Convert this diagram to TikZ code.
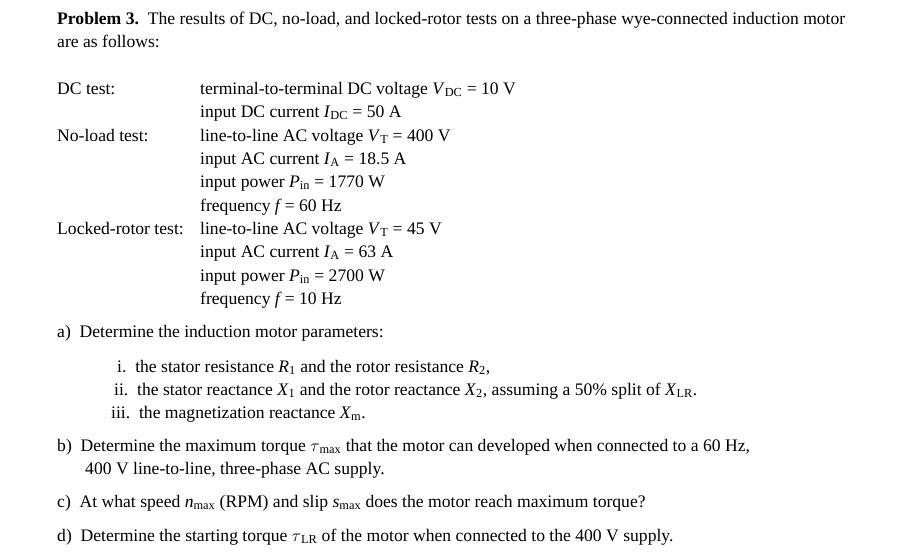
\documentclass[tikz,border=0pt]{standalone}
\usepackage{fontspec}
\setmainfont{Liberation Serif}
\newcommand{\vv}[2]{\textit{#1}\textsubscript{#2}}
\begin{document}
\begin{tikzpicture}[x=1pt,y=-1pt,
  t/.style={anchor=mid west,inner sep=0pt,font=\fontsize{17.6}{20}\selectfont}]
\useasboundingbox (0,0) rectangle (914,560);
\begin{scope}[yshift=-2pt]
\node[t] (p1) at (57,20) {\textbf{Problem 3.}\ \ The results of DC, no-load, and locked-rotor tests on a three-phase wye-connected induction motor};
\node[t] (p2) at (57,43) {are as follows:};
\node[t] (l1) at (57,90) {DC test:};
\node[t] (l2) at (57,137) {No-load test:};
\node[t] (l3) at (57,230) {Locked-rotor test:};
\node[t] (r1) at (200,90) {terminal-to-terminal DC voltage \vv{V}{DC} = 10 V};
\node[t] (r2) at (200,113) {input DC current \vv{I}{DC} = 50 A};
\node[t] (r3) at (200,137) {line-to-line AC voltage \vv{V}{T} = 400 V};
\node[t] (r4) at (200,160) {input AC current \vv{I}{A} = 18.5 A};
\node[t] (r5) at (200,183) {input power \vv{P}{in} = 1770 W};
\node[t] (r6) at (200,207) {frequency \textit{f}\,= 60 Hz};
\node[t] (r7) at (200,230) {line-to-line AC voltage \vv{V}{T} = 45 V};
\node[t] (r8) at (200,253) {input AC current \vv{I}{A} = 63 A};
\node[t] (r9) at (200,277) {input power \vv{P}{in} = 2700 W};
\node[t] (r10) at (200,300) {frequency \textit{f}\,= 10 Hz};
\node[t] (a) at (57,333) {a)\ \ Determine the induction motor parameters:};
\node[t] (a1) at (117,368) {i.\ \ the stator resistance \vv{R}{1} and the rotor resistance \vv{R}{2},};
\node[t] (a2) at (114,391) {ii.\ \ the stator reactance \vv{X}{1} and the rotor reactance \vv{X}{2}, assuming a 50\% split of \vv{X}{LR}.};
\node[t] (a3) at (111,414) {iii.\ \ the magnetization reactance \vv{X}{m}.};
\node[t] (b) at (57,447) {b)\ \ Determine the maximum torque \vv{\ensuremath{\tau}}{max} that the motor can developed when connected to a 60 Hz,};
\node[t] (b2) at (85,470) {400 V line-to-line, three-phase AC supply.};
\node[t] (c) at (57,503) {c)\ \ At what speed \vv{n}{max} (RPM) and slip \vv{s}{max} does the motor reach maximum torque?};
\node[t] (d) at (57,537) {d)\ \ Determine the starting torque \vv{\ensuremath{\tau}}{LR} of the motor when connected to the 400 V supply.};
\end{scope}
\end{tikzpicture}
\end{document}
